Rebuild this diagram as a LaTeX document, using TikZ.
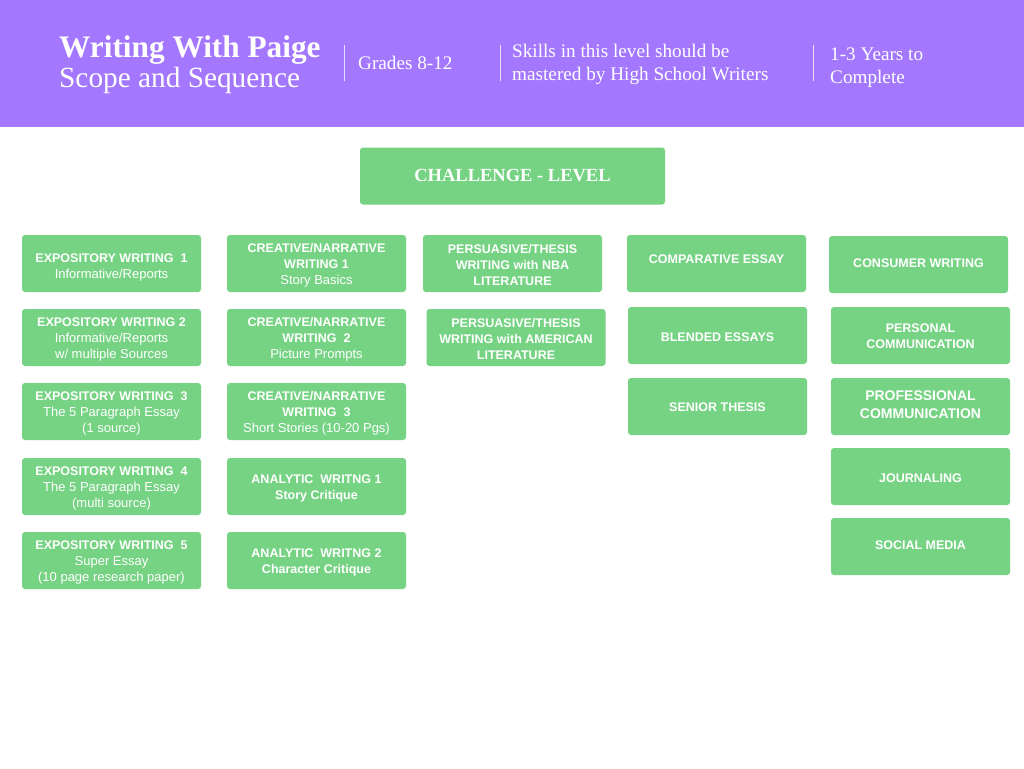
\documentclass[tikz,border=0pt]{standalone}
\usepackage{fontspec}
\setmainfont{Liberation Serif}
\newfontfamily\boxfont{Liberation Sans}
\definecolor{hdr}{HTML}{A478FE}
\definecolor{grn}{HTML}{77D384}
\newcommand\subtxt[1]{{\mdseries\fontsize{13}{16}\selectfont #1}}
% [text options]{name}{x,y}{text shift}{text}
\newcommand\gb[5][]{%
  \node[gbox] (#2) at (#3) {};
  \node[gtxt,#1] (#2t) at ([yshift=#4]#2.center) {#5};}
\begin{document}
\begin{tikzpicture}[x=1pt,y=-1pt,
  gbox/.style={fill=grn, rounded corners=3pt, inner sep=0pt, minimum width=179pt, minimum height=57pt},
  gtxt/.style={inner sep=0pt, text=white, align=center, font=\boxfont\bfseries\fontsize{12.5}{16}\selectfont},
  htxt/.style={anchor=base west, inner sep=0pt, text=white, font=\fontsize{19.2}{23}\selectfont},
  divider/.style={draw=white, draw opacity=0.75, line width=1pt}]
\fill[white] (0,0) rectangle (1024,768);
\useasboundingbox (0,0) rectangle (1024,768);
% header
\fill[hdr] (0,0) rectangle (1024,127);
\node[htxt, font=\bfseries\fontsize{31.3}{36}\selectfont] (title) at (59,57) {Writing With Paige};
\node[htxt, font=\fontsize{29.3}{34}\selectfont] (subtitle) at (59,87) {Scope and Sequence};
\draw[divider] (344,45) -- (344,81);
\draw[divider] (500,45) -- (500,81);
\draw[divider] (813,45) -- (813,81);
\node[htxt] (grades) at (358,69) {Grades 8-12};
\node[htxt] (skillsA) at (512,58) {Skills in this level should be};
\node[htxt] (skillsB) at (512,81) {mastered by High School Writers};
\node[htxt] (yearsA) at (830,60) {1-3 Years to};
\node[htxt] (yearsB) at (830,83) {Complete};
% challenge
\node[gbox, minimum width=305pt] (challenge) at (512.5,176) {};
\node[gtxt, font=\bfseries\fontsize{18.5}{22}\selectfont] (challenget) at (challenge.center) {CHALLENGE - LEVEL};
% column 1
\gb{exp1}{111.5,263.5}{-4.3pt}{EXPOSITORY WRITING\ \ 1\\\subtxt{Informative/Reports}}
\gb{exp2}{111.5,337.5}{-2pt}{EXPOSITORY WRITING 2\\\subtxt{Informative/Reports}\\\subtxt{w/ multiple Sources}}
\gb{exp3}{111.5,411.5}{-2pt}{EXPOSITORY WRITING\ \ 3\\\subtxt{The 5 Paragraph Essay}\\\subtxt{(1 source)}}
\gb{exp4}{111.5,486.5}{-2pt}{EXPOSITORY WRITING\ \ 4\\\subtxt{The 5 Paragraph Essay}\\\subtxt{(multi source)}}
\gb{exp5}{111.5,560.5}{-1.5pt}{EXPOSITORY WRITING\ \ 5\\\subtxt{Super Essay}\\\subtxt{(10 page research paper)}}
% column 2
\gb{cre1}{316.5,263.5}{-2pt}{CREATIVE/NARRATIVE\\WRITING 1\\\subtxt{Story Basics}}
\gb{cre2}{316.5,337.5}{-2pt}{CREATIVE/NARRATIVE\\WRITING\ \ 2\\\subtxt{Picture Prompts}}
\gb{cre3}{316.5,411.5}{-1.5pt}{CREATIVE/NARRATIVE\\WRITING\ \ 3\\\subtxt{Short Stories (10-20 Pgs)}}
\gb{ana1}{316.5,486.5}{-1.5pt}{ANALYTIC\ \ WRITNG 1\\Story Critique}
\gb{ana2}{316.5,560.5}{-1.5pt}{ANALYTIC\ \ WRITNG 2\\Character Critique}
% column 3
\gb{per1}{512.5,263.5}{-1.5pt}{PERSUASIVE/THESIS\\WRITING with NBA\\LITERATURE}
\gb{per2}{516,337.5}{-1.5pt}{PERSUASIVE/THESIS\\WRITING with AMERICAN\\LITERATURE}
% column 4
\gb{comp}{716.5,263.5}{4.2pt}{COMPARATIVE ESSAY}
\gb{blend}{717.5,335.5}{-1.2pt}{BLENDED ESSAYS}
\gb{senior}{717.5,406.5}{-0.5pt}{SENIOR THESIS}
% column 5
\gb{cons}{918.5,264.5}{1.2pt}{CONSUMER WRITING}
\gb{pers}{920.5,335.5}{-1pt}{PERSONAL\\COMMUNICATION}
\gb[font=\boxfont\bfseries\fontsize{14}{18}\selectfont]{prof}{920.5,406.5}{1.5pt}{PROFESSIONAL\\COMMUNICATION}
\gb{jour}{920.5,476.5}{-1.2pt}{JOURNALING}
\gb{social}{920.5,546.5}{1.5pt}{SOCIAL MEDIA}
\end{tikzpicture}
\end{document}
